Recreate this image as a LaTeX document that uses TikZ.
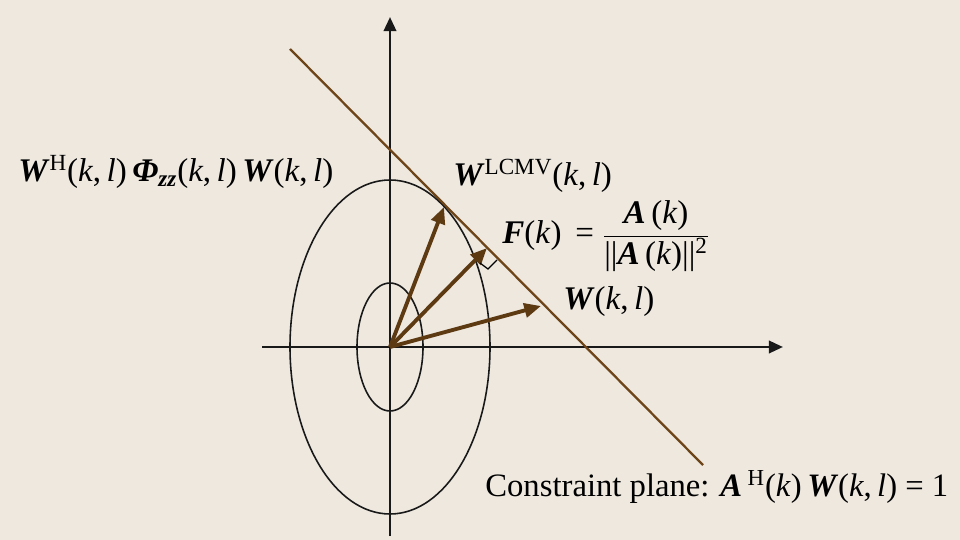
\documentclass[tikz,border=0pt]{standalone}
\usepackage{fontspec}
\setmainfont{Liberation Serif}
\usetikzlibrary{arrows.meta}
\newcommand\bvec[1]{\textbf{\textit{#1}}}
\newcommand\kl{(\textit{k},\,\textit{l})}
\definecolor{bgc}{HTML}{EEE8DF}
\definecolor{linec}{HTML}{6E4419}
\definecolor{arrc}{HTML}{5E3A13}
\begin{document}
\begin{tikzpicture}[x=0.02cm,y=-0.02cm,
  axis/.style={line width=1.5pt,black!90,-{Triangle[length=8pt,width=7pt]}},
  curve/.style={line width=0.9pt,black!90},
  vecarrow/.style={line width=2.2pt,arrc,-{Triangle[length=9.5pt,width=8pt]}},
  lbl/.style={font=\fontsize{18.8}{22}\selectfont,inner sep=0pt}]
\fill[bgc] (0,0) rectangle (960,540);
\useasboundingbox (0,0) rectangle (960,540);
% axes
\coordinate (O) at (390,347);
\coordinate (xs) at (262,347);
\coordinate (xe) at (783,347);
\coordinate (ys) at (390,536);
\coordinate (ye) at (390,17);
\draw[axis] (xs) -- (xe);
\draw[axis] (ys) -- (ye);
% ellipses
\draw[curve] (O) ellipse [x radius=100, y radius=167];
\draw[curve] (O) ellipse [x radius=33, y radius=64];
% constraint line
\coordinate (ls) at (290,49);
\coordinate (le) at (703,465);
\draw[linec,line width=1.3pt] (ls) -- (le);
% vectors
\coordinate (v1) at (444,207);
\coordinate (v2) at (487,248);
\coordinate (v3) at (541,306);
\draw[vecarrow] (O) -- (v1);
\draw[vecarrow] (O) -- (v2);
\draw[vecarrow] (O) -- (v3);
% right angle mark
\coordinate (r1) at (497,260);
\coordinate (r2) at (488,269);
\coordinate (r3) at (480,263);
\draw[black,line width=0.7pt] (r1) -- (r2) -- (r3);
% labels
\node[lbl,anchor=west] (cost) at (18,172) {\bvec{W}\textsuperscript{H}\kl\,\bvec{Φ}\textsubscript{\bvec{zz}}\kl\,\bvec{W}\kl};
\node[lbl,anchor=west] (lcmv) at (453,176) {\bvec{W}\textsuperscript{LCMV}\kl};
\node[lbl,anchor=west] (fk) at (502,236) {\bvec{F}(\textit{k})\ \,=\ \(\displaystyle\frac{\hbox{\bvec{A}\,(\textit{k})}}{\hbox{||\bvec{A}\,(\textit{k})||\textsuperscript{2}}}\)};
\node[lbl,anchor=west] (wkl) at (563,302) {\bvec{W}\kl};
\node[lbl,anchor=west,font=\fontsize{18.6}{22}\selectfont] (cp) at (485,487) {Constraint plane: \bvec{A}\,\textsuperscript{H}(\textit{k})\,\bvec{W}\kl{} = 1};
\end{tikzpicture}
\end{document}
